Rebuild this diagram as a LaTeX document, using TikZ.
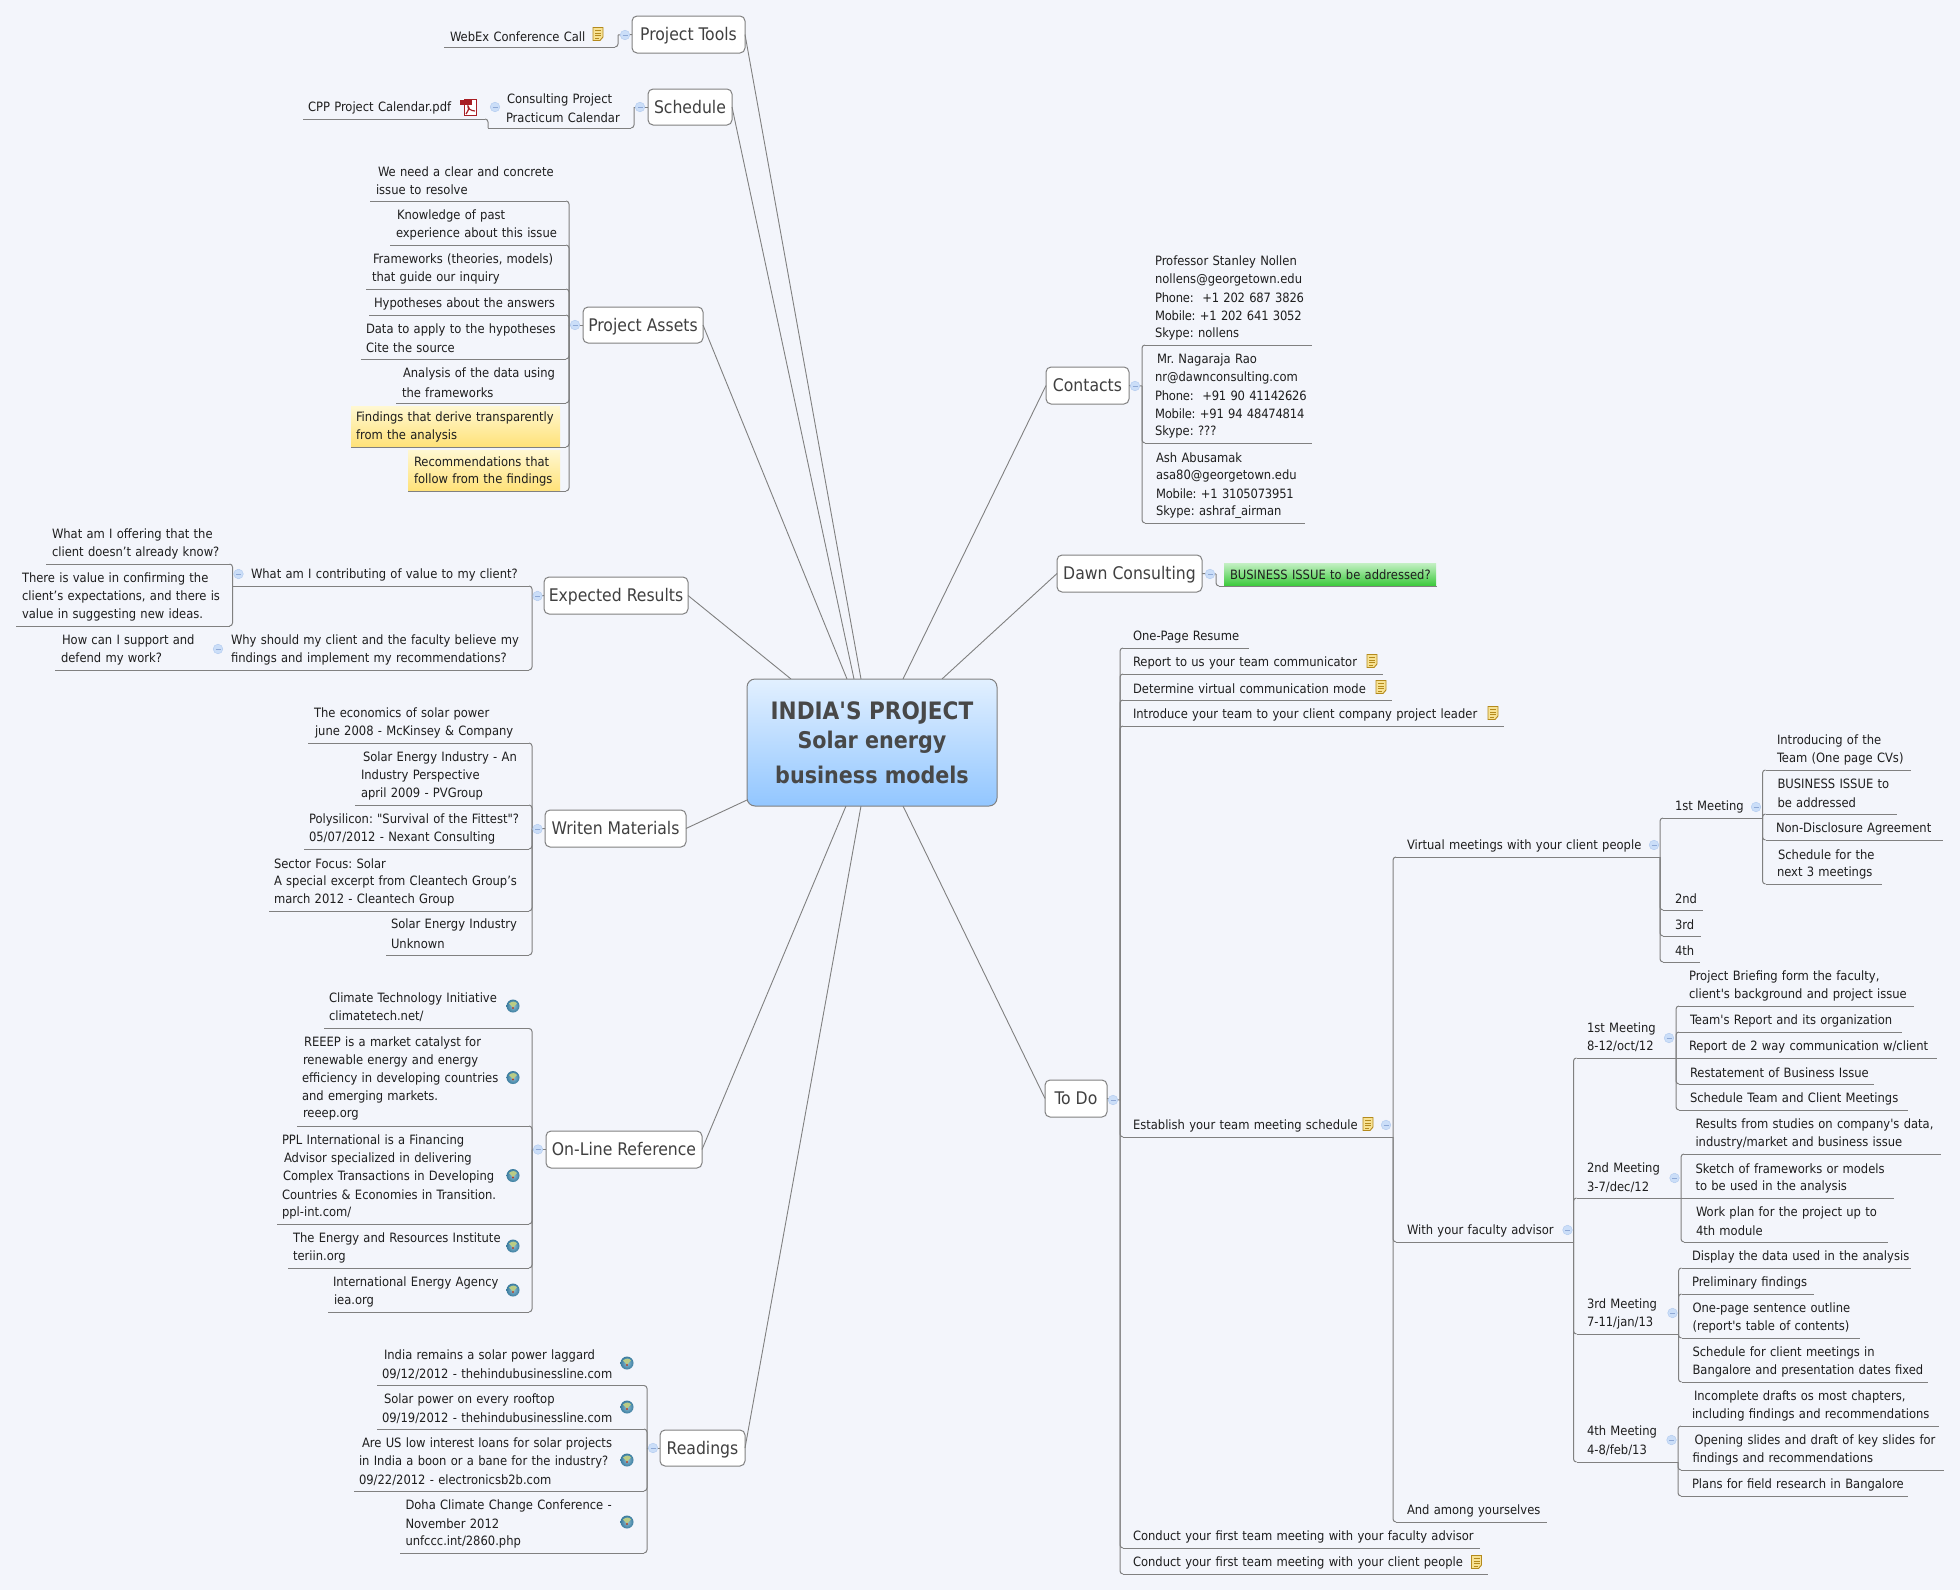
\documentclass[tikz,border=0pt]{standalone}
\usepackage{fontspec}
\newfontfamily\mmfont{DejaVu Sans Condensed}
\usetikzlibrary{calc}
\definecolor{bgc}{HTML}{F3F5FB}
\definecolor{linec}{HTML}{808080}
\definecolor{inkc}{HTML}{1E1E1E}
\definecolor{topicink}{HTML}{404040}
\definecolor{mainink}{HTML}{484848}
\definecolor{topA}{HTML}{E2F0FF}
\definecolor{topB}{HTML}{92C6FF}
\definecolor{colF}{HTML}{CBDEF8}
\definecolor{colD}{HTML}{B5CDF0}
\tikzset{
  conn/.style={draw=linec,line width=0.5pt},
  elbow/.style={conn,rounded corners=1.5pt},
  link/.style={draw=linec,line width=0.45pt},
  leafnode/.style={inner sep=0pt,outer sep=0pt,align=left,text=inkc,font=\mmfont\frenchspacing\fontsize{6.42}{9}\selectfont},
  topicbox/.style={draw=linec,line width=0.5pt,fill=white,rounded corners=2.5pt,inner sep=0pt,outer sep=0pt,text=topicink,text height=8pt,text depth=2pt,font=\mmfont\fontsize{8.7}{10}\selectfont},
  mainbox/.style={draw=linec,line width=0.5pt,rounded corners=4pt,inner sep=0pt,outer sep=0pt,align=center,text=mainink,top color=topA,bottom color=topB,font=\mmfont\bfseries\fontsize{11.5}{14.5}\selectfont},
  collapse/.style={fill=colF,draw=colD,line width=0.25pt},
}
% core leaf: shorten style, name, x1, x2, y, text x, last baseline, text
\newcommand\leafcore[8]{%
  \pgfmathsetmacro\lfW{(#4-#3)*0.5}%
  \pgfmathsetmacro\lfP{(#6-#3)*0.5}%
  \pgfmathsetmacro\lfD{(#5-#7)*0.5}%
  \node[leafnode,text width=\lfW pt,anchor=south west] (#2) at (#3,#5)
    {\leftskip=\lfP pt\relax\rightskip=-100pt plus 1fil\relax #8\rule[-\lfD pt]{0pt}{\lfD pt}\par};%
  \draw[conn,#1] (#2.south west) -- (#2.south east);%
}
\newcommand\lL[7]{\leafcore{shorten >=1.5pt}{#1}{#2}{#3}{#4}{#5}{#6}{#7}}
\newcommand\lR[7]{\leafcore{shorten <=1.5pt}{#1}{#2}{#3}{#4}{#5}{#6}{#7}}
% elbow connectors: from a spine point to the underline of a leaf
\newcommand\elL[2]{\draw[elbow] (#1) |- ([xshift=-1.5pt]#2.south east);}
\newcommand\elR[2]{\draw[elbow] (#1) |- ([xshift=1.5pt]#2.south west);}
\newcommand\topic[6]{%
  \pgfmathsetmacro\tpW{(#4-#2)*0.5}%
  \pgfmathsetmacro\tpH{(#5-#3)*0.5}%
  \node[topicbox,minimum width=\tpW pt,minimum height=\tpH pt] (#1) at ({(#2+#4)/2},{(#3+#5)/2}) {#6};%
}
\definecolor{colM}{HTML}{8FA9D6}
\newcommand\col[2]{\fill[collapse] (#1,#2) circle (2.4pt);\draw[draw=colM,line width=0.3pt] (#1-2.5,#2) -- (#1+2.5,#2);}
\definecolor{noteF}{HTML}{F7E294}
\definecolor{noteD}{HTML}{B48A1C}
\newcommand\noteicon[2]{%
  \draw[draw=noteD,fill=noteF,line width=0.45pt] (#1-5,#2-6.5) -- (#1+5,#2-6.5) -- (#1+5,#2+3) -- (#1+2,#2+6.5) -- (#1-5,#2+6.5) -- cycle;
  \draw[draw=noteD,line width=0.35pt] (#1-3,#2-3.5) -- (#1+3,#2-3.5) (#1-3,#2-1) -- (#1+3,#2-1) (#1-3,#2+1.5) -- (#1+3,#2+1.5) (#1-3,#2+4) -- (#1+1,#2+4);}
\definecolor{gloA}{HTML}{8CC0D8}
\definecolor{gloB}{HTML}{3B7C9E}
\definecolor{gloG}{HTML}{B9CC86}
\definecolor{gloR}{HTML}{B04030}
\newcommand\globe[2]{%
  \shade[inner color=gloA,outer color=gloB] (#1,#2) circle (3.25pt);
  \fill[gloG] (#1-4,#2-2.5) .. controls (#1-1,#2-5) and (#1+2,#2-5) .. (#1+4,#2-2.5) .. controls (#1+2,#2) and (#1+1,#2) .. (#1,#2+2.5) .. controls (#1-1,#2) and (#1-2,#2) .. (#1-4,#2-2.5) -- cycle;
  \fill[gloR] (#1,#2+2) circle (0.6pt);}
\definecolor{pdfR}{HTML}{A81E24}
\newcommand\pdficon[2]{%
  \draw[draw=pdfR,fill=white,line width=0.4pt] (#1-4,#2-8) rectangle (#1+8,#2+8);
  \fill[pdfR] (#1-8,#2-7) rectangle (#1+4,#2-2);
  \draw[draw=pdfR,line width=0.6pt] (#1-2,#2+7) .. controls (#1+2,#2+1) and (#1+1,#2-1) .. (#1,#2-1) .. controls (#1-1,#2+1) and (#1+3,#2+4) .. (#1+7,#2+4);}
\definecolor{yelA}{HTML}{FFF8D2}
\definecolor{yelB}{HTML}{FFE27A}
\definecolor{greA}{HTML}{C4F0C4}
\definecolor{greB}{HTML}{3FCB3F}
\newcommand\ind[1]{\hspace*{#1pt}}
\newcommand\dg[1]{{\addfontfeature{LetterSpace=-1.5}#1}}
\begin{document}
\begin{tikzpicture}[x=0.5pt,y=-0.5pt]
\useasboundingbox[fill=bgc] (0,0) rectangle (1960,1590);

% fills behind highlighted topics
\shade[top color=yelA,bottom color=yelB] (351,406) rectangle (560,446);
\shade[top color=yelA,bottom color=yelB] (408,450) rectangle (560,490);
\shade[top color=greA,bottom color=greB] (1224,563) rectangle (1436,585);

% main topics
\topic{tools}{632}{16}{745}{53}{Project Tools}
\topic{sched}{648}{89}{732}{125}{Schedule}
\topic{assets}{583}{307}{703}{343}{Project Assets}
\topic{results}{544}{577}{688}{614}{Expected Results}
\topic{writen}{545}{810}{686}{847}{Writen Materials}
\topic{online}{546}{1131}{702}{1168}{On-Line Reference}
\topic{readings}{660}{1430}{745}{1466}{Readings}
\topic{contacts}{1046}{367}{1129}{404}{Contacts}
\topic{dawn}{1057}{555}{1202}{592}{Dawn Consulting}
\topic{todo}{1045}{1080}{1107}{1117}{To Do}

% attachment points on the central topic
\coordinate (m1) at (861,679);
\coordinate (m2) at (854,679);
\coordinate (m3) at (847,679);
\coordinate (m4) at (791,679);
\coordinate (m5) at (903,679);
\coordinate (m6) at (942,679);
\coordinate (m7) at (747,800);
\coordinate (m8) at (846,806);
\coordinate (m9) at (861,806);
\coordinate (m10) at (903,806);
\draw[link] (tools.east) -- (m1);
\draw[link] (sched.east) -- (m2);
\draw[link] (assets.east) -- (m3);
\draw[link] (results.east) -- (m4);
\draw[link] (contacts.west) -- (m5);
\draw[link] (dawn.west) -- (m6);
\draw[link] (writen.east) -- (m7);
\draw[link] (online.east) -- (m8);
\draw[link] (readings.east) -- (m9);
\draw[link] (todo.west) -- (m10);

\node[mainbox,minimum width=125pt,minimum height=63.5pt] (main) at (872,742.5)
  {\rule{0pt}{12pt}{\fontsize{12}{14.5}\selectfont INDIA'S PROJECT}\\Solar energy\\[3pt]business models\rule[-3.5pt]{0pt}{3.5pt}};

% Project Tools / Schedule
\lL{webex}{444}{618}{47}{450}{41}{WebEx Conference Call}
\coordinate (hTools) at (618,35);
\draw[conn] (tools.west) -- (hTools);
\elL{hTools}{webex}
\lL{consult}{488}{634}{128}{506}{122}{\ind{0.5}Consulting Project\\[0.5pt]Practicum Calendar}
\coordinate (hSched) at (634,107);
\draw[conn] (sched.west) -- (hSched);
\elL{hSched}{consult}
\lL{cpp}{303}{488}{119}{308}{111}{CPP Project Calendar.pdf}
\elL{consult.south west}{cpp}

% Project Assets
\lL{pa1}{370}{569}{201}{376}{194}{\ind{1}We need a clear and concrete\\issue to resolve}
\lL{pa2}{390}{569}{245}{396}{237}{\ind{0.5}Knowledge of past\\experience about this issue}
\lL{pa3}{366}{569}{289}{372}{281}{\ind{0.5}Frameworks (theories, models)\\that guide our inquiry}
\lL{pa4}{369}{569}{315}{374}{307}{Hypotheses about the answers}
\lL{pa5}{361}{569}{359}{366}{352}{Data to apply to the hypotheses\\[0.5pt]Cite the source}
\lL{pa6}{396}{569}{403}{402}{397}{\ind{0.5}Analysis of the data using\\[1pt]the frameworks}
\lL{pa7}{351}{569}{447}{356}{439}{Findings that derive transparently\\from the analysis}
\lL{pa8}{408}{569}{491}{414}{483}{Recommendations that\\[-0.5pt]follow from the findings}
\coordinate (hAssets) at (569,325);
\draw[conn] (assets.west) -- (hAssets);
\foreach \c in {pa1,pa2,pa3,pa4,pa5,pa6,pa7,pa8} {\elL{hAssets}{\c}}

% Expected Results
\lL{er1}{232.5}{532}{586}{251}{578}{What am I contributing of value to my client?}
\lL{er2}{204}{532}{670}{231}{662}{Why should my client and the faculty believe my\\findings and implement my recommendations?}
\coordinate (hResults) at (532,596);
\draw[conn] (results.west) -- (hResults);
\elL{hResults}{er1}
\elL{hResults}{er2}
\lL{er1a}{46}{232.5}{564}{52}{556}{What am I offering that the\\client doesn’t already know?}
\lL{er1b}{16}{232.5}{626}{22}{618}{There is value in confirming the\\client’s expectations, and there is\\value in suggesting new ideas.}
\elL{er1.south west}{er1a}
\elL{er1.south west}{er1b}
\lL{er2a}{55}{204}{670}{61}{662}{\ind{0.5}How can I support and\\defend my work?}
\draw[conn] (er2.south west) -- ([xshift=-1.5pt]er2a.south east);

% Writen Materials
\lL{wm1}{308}{532}{743}{314}{735}{The economics of solar power\\\ind{0.5}june 2008 - McKinsey \& Company}
\lL{wm2}{355}{532}{805}{361}{797}{\ind{1}Solar Energy Industry - An\\Industry Perspective\\april 2009 - PVGroup}
\lL{wm3}{304}{532}{849}{309}{841}{Polysilicon: "Survival of the Fittest"?\\05/07/2012 - Nexant Consulting}
\lL{wm4}{269}{532}{911}{274}{903}{Sector Focus: Solar\\[-0.5pt]A special excerpt from Cleantech Group’s\\march 2012 - Cleantech Group}
\lL{wm5}{386}{532}{955}{391}{948}{Solar Energy Industry\\[1pt]Unknown}
\coordinate (hWriten) at (532,829);
\draw[conn] (writen.west) -- (hWriten);
\foreach \c in {wm1,wm2,wm3,wm4,wm5} {\elL{hWriten}{\c}}

% On-Line Reference
\lL{ol1}{324}{532}{1028.5}{329}{1020.5}{Climate Technology Initiative\\[0.25pt]climatetech.net/}
\lL{ol2}{297}{532}{1126}{303}{1117}{\ind{0.5}REEEP is a market catalyst for\\renewable energy and energy\\\ind{-0.5}efficiency in developing countries\\\ind{-0.5}and emerging markets.\\[-0.5pt]reeep.org}
\lL{ol3}{277}{532}{1224}{282}{1216}{PPL International is a Financing\\\ind{1}Advisor specialized in delivering\\\ind{0.5}Complex Transactions in Developing\\[0.5pt]Countries \& Economies in Transition.\\[-0.5pt]ppl-int.com/}
\lL{ol4}{288}{532}{1268}{293}{1260}{The Energy and Resources Institute\\teriin.org}
\lL{ol5}{328}{532}{1312}{333}{1304}{International Energy Agency\\\ind{0.5}iea.org}
\coordinate (hOnline) at (532,1149.5);
\draw[conn] (online.west) -- (hOnline);
\foreach \c in {ol1,ol2,ol3,ol4,ol5} {\elL{hOnline}{\c}}

% Readings
\lL{rd1}{377}{647}{1385.5}{382}{1378}{\ind{1}India remains a solar power laggard\\[0.5pt]09/12/2012 - thehindubusinessline.com}
\lL{rd2}{377}{647}{1429}{382}{1422}{\ind{1}Solar power on every rooftop\\[0.5pt]09/19/2012 - thehindubusinessline.com}
\lL{rd3}{354}{647}{1491}{359}{1484}{\ind{1.5}Are US low interest loans for solar projects\\in India a boon or a bane for the industry?\\[0.5pt]09/22/2012 - electronicsb2b.com}
\lL{rd4}{400}{647}{1553}{405.5}{1545}{Doha Climate Change Conference -\\[0.5pt]November 2012\\[-0.5pt]unfccc.int/2860.php}
\coordinate (hRead) at (647,1448);
\draw[conn] (readings.west) -- (hRead);
\foreach \c in {rd1,rd2,rd3,rd4} {\elL{hRead}{\c}}

% Contacts
\lR{ct1}{1142}{1312}{345}{1155}{337}{Professor Stanley Nollen\\nollens@georgetown.edu\\[0.5pt]\dg{Phone:~~+1 202 687 3826}\\\dg{Mobile: +1 202 641 3052}\\[-0.5pt]Skype: nollens}
\lR{ct2}{1142}{1312}{443}{1155}{435}{\ind{1}Mr. Nagaraja Rao\\nr@dawnconsulting.com\\[0.5pt]\dg{Phone:~~+91 90 41142626}\\\dg{Mobile: +91 94 48474814}\\[-0.5pt]Skype: ???}
\lR{ct3}{1142}{1305}{523}{1156}{515}{Ash Abusamak\\[-0.5pt]asa80@georgetown.edu\\[0.5pt]\dg{Mobile: +1 3105073951}\\[-0.5pt]Skype: ashraf\_airman}
\coordinate (hContacts) at (1142,386);
\draw[conn] (contacts.east) -- (hContacts);
\foreach \c in {ct1,ct2,ct3} {\elR{hContacts}{\c}}

% Dawn Consulting
\lR{dc1}{1216}{1437}{586}{1230}{579}{BUSINESS ISSUE to be addressed?}
\coordinate (hDawn) at (1216,574);
\draw[conn] (dawn.east) -- (hDawn);
\elR{hDawn}{dc1}

% To Do
\lR{td1}{1120}{1249}{648}{1133}{640}{One-Page Resume}
\lR{td2}{1120}{1383}{674}{1133}{666}{Report to us your team communicator}
\lR{td3}{1120}{1392}{700}{1133}{693}{Determine virtual communication mode}
\lR{td4}{1120}{1504}{726}{1133}{718}{Introduce your team to your client company project leader}
\lR{td5}{1120}{1393}{1137}{1133}{1129}{Establish your team meeting schedule}
\lR{td6}{1120}{1480}{1548}{1133}{1540}{Conduct your first team meeting with your faculty advisor}
\lR{td7}{1120}{1488}{1574}{1133}{1566}{Conduct your first team meeting with your client people}
\coordinate (hTodo) at (1120,1100);
\draw[conn] (todo.east) -- (hTodo);
\foreach \c in {td1,td2,td3,td4,td5,td6,td7} {\elR{hTodo}{\c}}

\lR{vm}{1393}{1660}{857}{1407}{849}{Virtual meetings with your client people}
\lR{fa}{1393}{1573.5}{1242}{1407}{1234}{With your faculty advisor}
\lR{ay}{1393}{1546.5}{1522}{1407}{1514}{And among yourselves}
\foreach \c in {vm,fa,ay} {\elR{td5.south east}{\c}}

\lR{vm1}{1660}{1762.5}{818}{1675}{810}{1st Meeting}
\lR{vm2}{1660}{1703}{910}{1675}{903}{2nd}
\lR{vm3}{1660}{1701}{936}{1675}{929}{3rd}
\lR{vm4}{1660}{1700}{962}{1675}{955}{4th}
\foreach \c in {vm1,vm2,vm3,vm4} {\elR{vm.south east}{\c}}

\lR{vma}{1762.5}{1911}{770}{1777}{762}{Introducing of the\\Team (One page CVs)}
\lR{vmb}{1762.5}{1897}{814}{1777.5}{807}{BUSINESS ISSUE to\\[0.5pt]be addressed}
\lR{vmc}{1762.5}{1943}{840}{1776}{832}{Non-Disclosure Agreement}
\lR{vmd}{1762.5}{1882}{884}{1777}{876}{\ind{0.5}Schedule for the\\[-0.5pt]next 3 meetings}
\foreach \c in {vma,vmb,vmc,vmd} {\elR{vm1.south east}{\c}}

\lR{mt1}{1573.5}{1676}{1058}{1587}{1050}{1st Meeting\\8-12/oct/12}
\lR{mt2}{1573.5}{1681}{1198}{1587}{1191}{2nd Meeting\\[0.5pt]3-7/dec/12}
\lR{mt3}{1573.5}{1678.5}{1334}{1587}{1326}{3rd Meeting\\7-11/jan/13}
\lR{mt4}{1573.5}{1678}{1462}{1587}{1454}{4th Meeting\\[0.5pt]4-8/feb/13}
\foreach \c in {mt1,mt2,mt3,mt4} {\elR{fa.south east}{\c}}

\lR{ma}{1676}{1914}{1006}{1689}{998}{Project Briefing form the faculty,\\client's background and project issue}
\lR{mb}{1676}{1902}{1032}{1690}{1024}{Team's Report and its organization}
\lR{mc}{1676}{1937}{1058}{1689}{1050}{Report de 2 way communication w/client}
\lR{md}{1676}{1874}{1084}{1690}{1077}{Restatement of Business Issue}
\lR{me}{1676}{1908}{1110}{1690}{1102}{Schedule Team and Client Meetings}
\foreach \c in {ma,mb,md,me} {\elR{mt1.south east}{\c}}
\draw[conn] (mt1.south east) -- ([xshift=1.5pt]mc.south west);

\lR{na}{1681}{1941}{1154}{1695.5}{1146}{Results from studies on company's data,\\industry/market and business issue}
\lR{nb}{1681}{1894}{1198}{1695.5}{1190}{Sketch of frameworks or models\\[-0.5pt]to be used in the analysis}
\lR{nc}{1681}{1887.5}{1242}{1696}{1235}{Work plan for the project up to\\[0.5pt]4th module}
\foreach \c in {na,nc} {\elR{mt2.south east}{\c}}
\draw[conn] (mt2.south east) -- ([xshift=1.5pt]nb.south west);

\lR{oa}{1678.5}{1911}{1268}{1692}{1260}{Display the data used in the analysis}
\lR{ob}{1678.5}{1813.5}{1294}{1692}{1286}{Preliminary findings}
\lR{oc}{1678.5}{1860}{1338}{1692.5}{1330}{One-page sentence outline\\(report's table of contents)}
\lR{od}{1678.5}{1928}{1382}{1692.5}{1374}{Schedule for client meetings in\\Bangalore and presentation dates fixed}
\foreach \c in {oa,ob,oc,od} {\elR{mt3.south east}{\c}}

\lR{pa}{1678}{1938.5}{1426}{1692}{1418}{\ind{1}Incomplete drafts os most chapters,\\including findings and recommendations}
\lR{pb}{1678}{1944}{1470}{1692.5}{1462}{\ind{1}Opening slides and draft of key slides for\\findings and recommendations}
\lR{pc}{1678}{1908}{1496}{1692}{1488}{Plans for field research in Bangalore}
\foreach \c in {pa,pb,pc} {\elR{mt4.south east}{\c}}

% icons
\noteicon{598}{34}
\pdficon{468}{107}
\noteicon{1372}{661}
\noteicon{1381}{687}
\noteicon{1493}{713}
\noteicon{1368}{1124}
\noteicon{1476.5}{1562}
\globe{513}{1006}
\globe{513}{1077.5}
\globe{513}{1175.5}
\globe{513}{1246}
\globe{513}{1290}
\globe{627}{1363}
\globe{627}{1407}
\globe{627}{1460}
\globe{627}{1522}

% collapse markers
\col{625}{35}
\col{640}{107}
\col{495}{107}
\col{575}{325}
\col{537.5}{596}
\col{238.5}{574}
\col{218}{649}
\col{537.5}{829}
\col{538}{1149.5}
\col{653}{1448}
\col{1135}{386}
\col{1210}{574}
\col{1113}{1100}
\col{1386}{1125}
\col{1654}{845}
\col{1756}{807}
\col{1567.5}{1230}
\col{1669}{1038}
\col{1674.5}{1178}
\col{1672.5}{1313}
\col{1671.5}{1440}
\end{tikzpicture}
\end{document}
